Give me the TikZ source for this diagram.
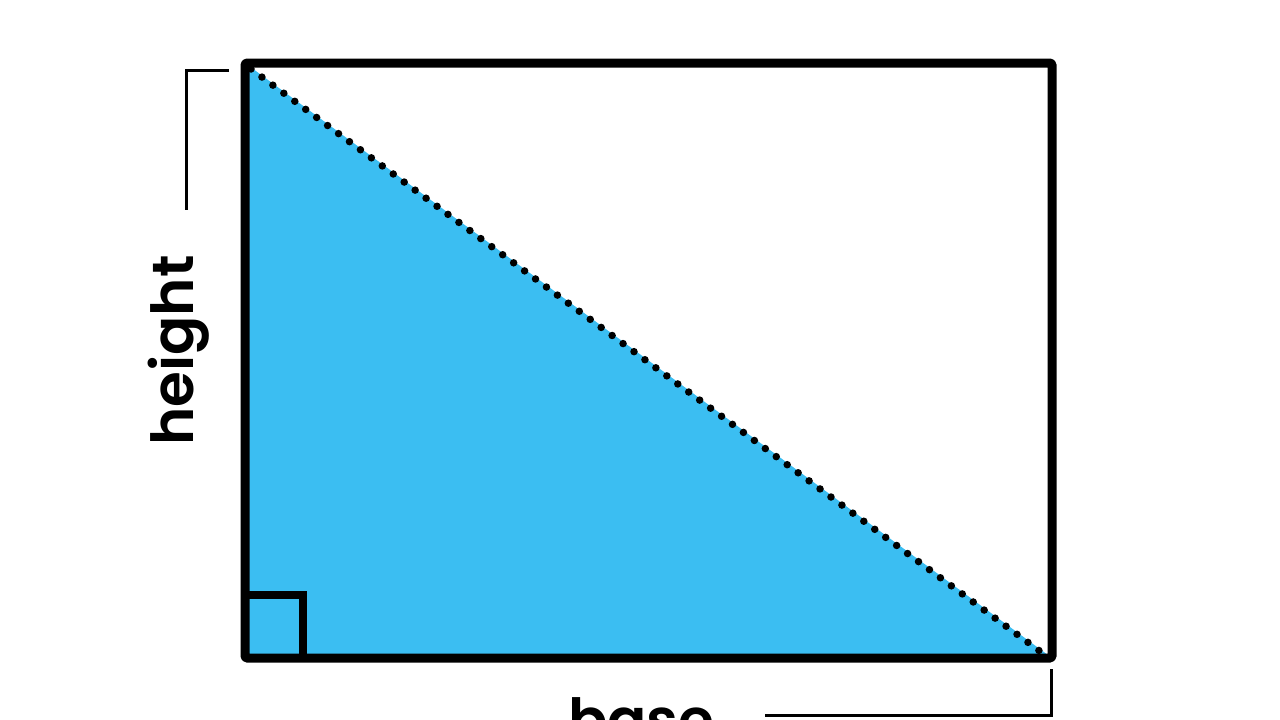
\documentclass[tikz,border=0pt]{standalone}
\usepackage{fontspec}
\newfontfamily\lblfont{Poppins SemiBold}
\definecolor{skyfill}{RGB}{59,190,242}
\tikzset{
   frame/.style={draw=black, line width=9pt, line join=round, rounded corners=1.5pt},
   corner mark/.style={draw=black, line width=8pt, line join=miter},
   diagonal/.style={draw=black, line width=7.5pt, line cap=round, dash pattern=on 0pt off 13.6pt},
   bracket/.style={draw=black, line width=3pt},
   lbl/.style={inner sep=0pt, font=\lblfont\fontsize{58}{66}\selectfont},
    }
\begin{document}
\begin{tikzpicture}[x=1pt,y=-1pt]
        \useasboundingbox (0,0) rectangle (1280,720);
        \clip (0,0) rectangle (1280,720);
        % corners of the box
        \coordinate (tl) at (245,63);
        \coordinate (tr) at (1052,63);
        \coordinate (bl) at (245,658);
        \coordinate (br) at (1052,658);
        \fill[skyfill] (tl) -- (bl) -- (br) -- cycle;
        \path[diagonal] (251,69) -- (1041,652);
        \draw[frame] (tl) rectangle (br);
        \draw[corner mark] (bl) |- (303,595) -- (303,658);
        % dimension brackets
        \coordinate (h1) at (229,70);
        \coordinate (h2) at (186,70);
        \coordinate (h3) at (186,210);
        \draw[bracket] (h1) -- (h2) -- (h3);
        \coordinate (b1) at (1051,669);
        \coordinate (b2) at (1051,715);
        \coordinate (b3) at (765,715);
        \draw[bracket] (b1) -- (b2) -- (b3);
        \node[lbl, rotate=90, anchor=base west] (height) at (193,446) {height};
        \node[lbl, anchor=base west] (base) at (568,740) {base};
\end{tikzpicture}
\end{document}
